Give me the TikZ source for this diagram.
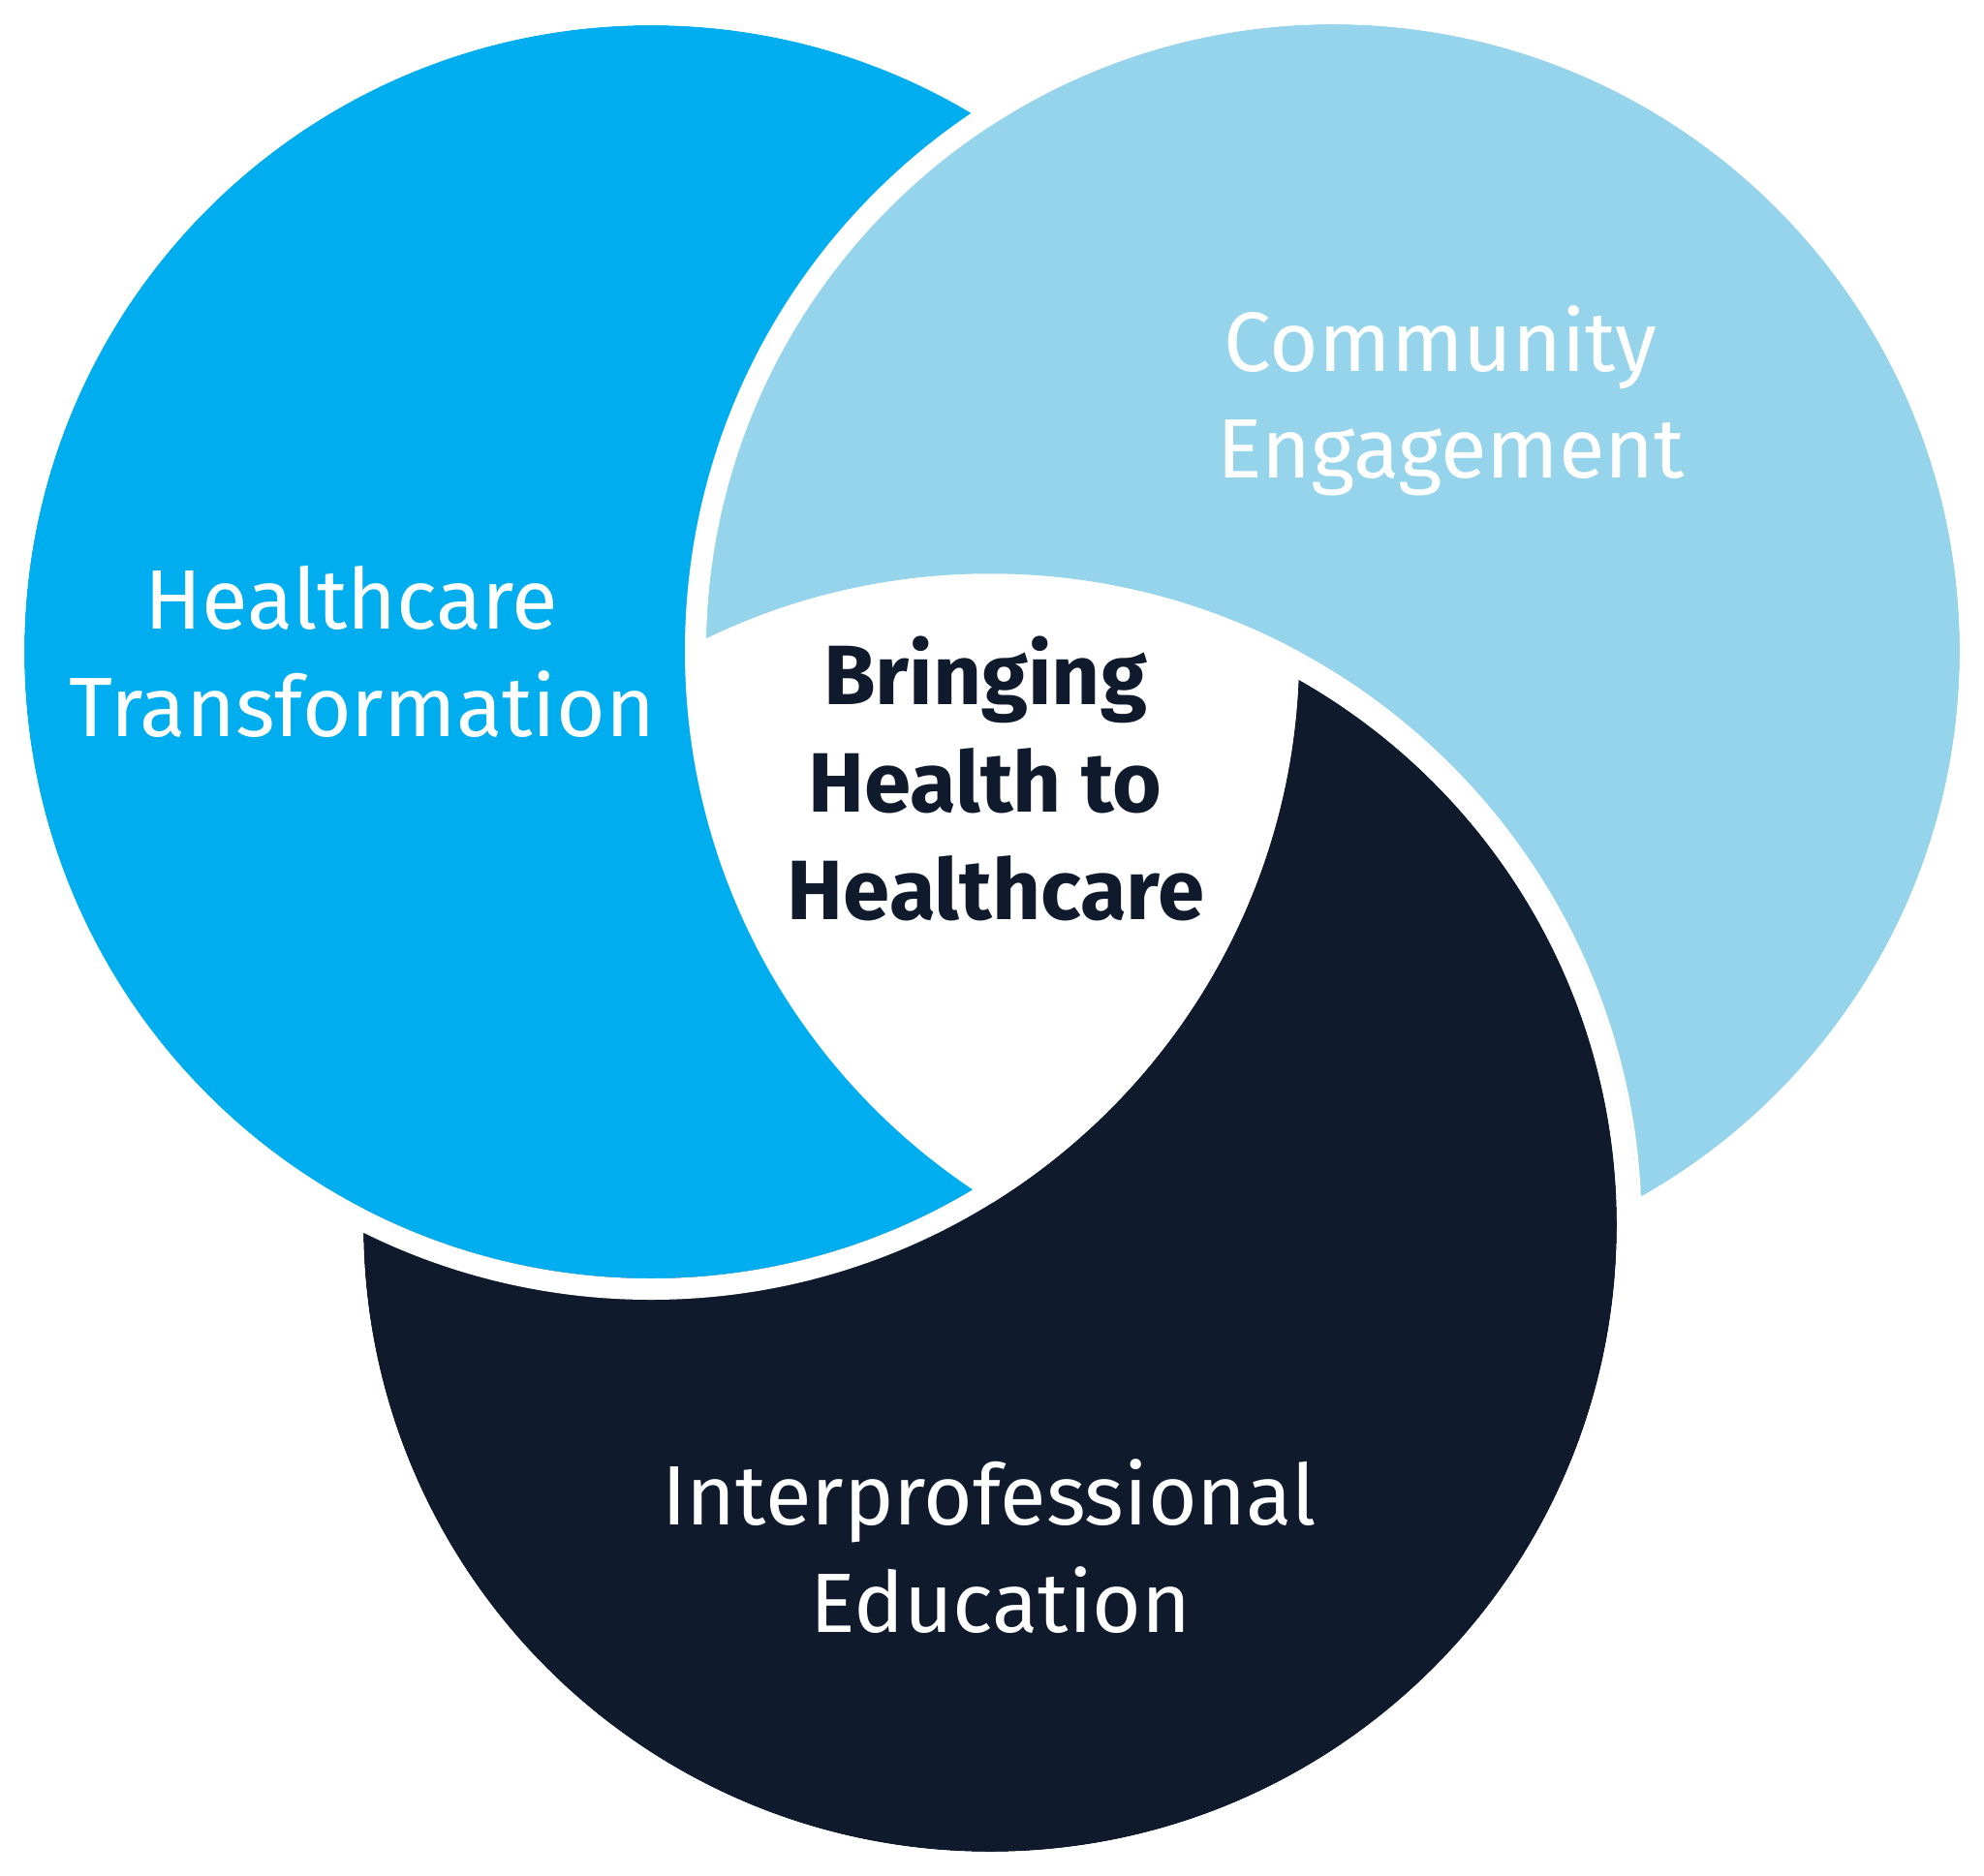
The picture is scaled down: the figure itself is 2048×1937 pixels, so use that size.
\documentclass[tikz,border=0pt]{standalone}
\usepackage{fontspec}
\setmainfont{Fira Sans}
\usepackage{tikz}

\definecolor{hcblue}{RGB}{0,174,239}
\definecolor{cmblue}{RGB}{150,212,236}
\definecolor{ipnavy}{RGB}{15,27,44}

\tikzset{
	ring/.style={draw=white, line width=22pt},
	areatext/.style={text=white, anchor=base, font=\fontsize{87}{104}\selectfont},
	hubtext/.style={text=ipnavy, anchor=base, font=\fontsize{87}{104}\selectfont\bfseries}
}

\begin{document}
\begin{tikzpicture}[x=1pt, y=-1pt]

	\useasboundingbox (0,0) rectangle (2048,1937);

	\coordinate (ht) at (672,673);
	\coordinate (ce) at (1376,672);
	\coordinate (ie) at (1022,1265);

	% the three circles, each one with a white ring
	\fill [hcblue] (ht) circle (647);
	\draw [ring] (ht) circle (658);
	\fill [cmblue] (ce) circle (647);
	\draw [ring] (ce) circle (658);
	\fill [ipnavy] (ie) circle (647);
	\draw [ring] (ie) circle (658);

	% blue lies over the navy one
	\begin{scope}
		\clip (ie) circle (671);
		\fill [hcblue] (ht) circle (647);
		\draw [ring] (ht) circle (658);
	\end{scope}

	% white middle
	\begin{scope}
		\clip (ht) circle (669);
		\clip (ce) circle (669);
		\fill [white] (ie) circle (672.5);
	\end{scope}
	\begin{scope}
		\clip (ce) circle (669);
		\draw [white, line width=3.5pt] (ie) circle (670.75);
	\end{scope}

	\node [areatext] (ht1) at (363,649) {Healthcare};
	\node [areatext] (ht2) at (374,760) {Transformation};

	\node [areatext] (ce1) at (1487,383) {Community};
	\node [areatext] (ce2) at (1498,493) {Engagement};

	\node [areatext] (ie1) at (1021,1574) {Interprofessional};
	\node [areatext] (ie2) at (1033,1685) {Education};

	\node [hubtext] (hub1) at (1017,727) {Bringing};
	\node [hubtext] (hub2) at (1017,838) {Health to};
	\node [hubtext] (hub3) at (1028,949) {Healthcare};
\end{tikzpicture}
\end{document}
